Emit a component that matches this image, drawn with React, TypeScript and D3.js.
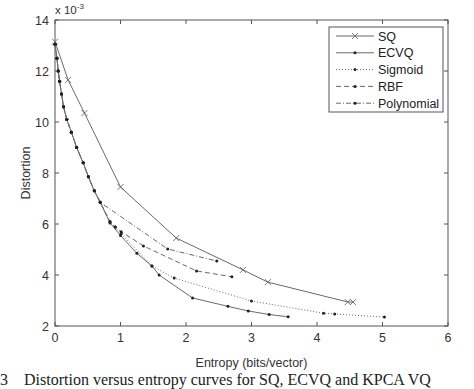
import React from 'react';
import * as d3 from 'd3';

type Pt = [number, number];

// shared upper part of the KPCA / ECVQ curves (entropy, distortion x1e-3)
const trunk: Pt[] = [
  [0, 13.05], [0.03, 12.5], [0.05, 12.0], [0.07, 11.6], [0.1, 11.1], [0.13, 10.6],
  [0.18, 10.1], [0.25, 9.6], [0.33, 9.0], [0.43, 8.4], [0.51, 7.85], [0.6, 7.3], [0.69, 6.85],
];

const sqPts: Pt[] = [
  [0, 13.15], [0.2, 11.65], [0.45, 10.35], [1.0, 7.45], [1.85, 5.45],
  [2.87, 4.2], [3.25, 3.72], [4.47, 2.94], [4.55, 2.94],
];
const ecvqPts: Pt[] = trunk.concat([
  [0.84, 6.04], [1.0, 5.55], [1.25, 4.85], [1.48, 4.35], [1.59, 4.0], [2.1, 3.1],
  [2.64, 2.77], [2.95, 2.59], [3.27, 2.45], [3.56, 2.36],
]);
const sigmoidPts: Pt[] = trunk.concat([
  [0.84, 6.08], [0.92, 5.88], [1.01, 5.62], [1.48, 4.35], [1.82, 3.88],
  [3.0, 2.98], [4.1, 2.5], [4.27, 2.47], [5.03, 2.35],
]);
const rbfPts: Pt[] = trunk.concat([
  [0.84, 6.1], [0.92, 5.88], [1.01, 5.7], [1.35, 5.14], [2.16, 4.16], [2.7, 3.93],
]);
const polyPts: Pt[] = trunk.concat([
  [1.72, 5.02], [2.47, 4.55],
]);

const seriesNames = ['SQ', 'ECVQ', 'Sigmoid', 'RBF', 'Polynomial'];
const seriesData = [sqPts, ecvqPts, sigmoidPts, rbfPts, polyPts];
const seriesDash = ['', '', '1,2', '5,3', '5,2,1,2'];
const seriesMarker = ['x', 'dot', 'dot', 'dot', 'dot'];

const xTicks = [0, 1, 2, 3, 4, 5, 6];
const yTicks = [2, 4, 6, 8, 10, 12, 14];

const W = 474, H = 389;
const mg = { left: 55, right: 26, top: 20, bottom: 63 };
const LINE = '#6a6a6a';
const AXIS = '#555';
const FONT = 'Liberation Sans, Arial, sans-serif';

export default function App() {
  const x = d3.scaleLinear().domain([0, 6]).range([mg.left, W - mg.right]);
  const y = d3.scaleLinear().domain([2, 14]).range([H - mg.bottom, mg.top]);
  const line = d3.line<Pt>().x(d => x(d[0])).y(d => y(d[1]));
  const [x0, x1] = x.range();
  const [y0, y1] = y.range();

  const marker = (kind: string, cx: number, cy: number, key: string) =>
    kind === 'x' ? (
      <path key={key} d={`M${cx - 3},${cy - 3}L${cx + 3},${cy + 3}M${cx - 3},${cy + 3}L${cx + 3},${cy - 3}`}
        stroke={LINE} strokeWidth={0.9} />
    ) : (
      <circle key={key} cx={cx} cy={cy} r={1.5} fill="#222" />
    );

  const lgX = 329, lgY = 27, lgW = 114, lgH = 85;

  return (
    <svg width={W} height={H} style={{ position: 'absolute', left: 0, top: 0, background: '#fff' }}>
      {/* axes box */}
      <rect x={x0} y={y1} width={x1 - x0} height={y0 - y1} fill="none" stroke={AXIS} strokeWidth={1} />
      {xTicks.map(t => (
        <g key={'xt' + t}>
          <line x1={x(t)} x2={x(t)} y1={y0} y2={y0 - 4} stroke={AXIS} />
          <line x1={x(t)} x2={x(t)} y1={y1} y2={y1 + 4} stroke={AXIS} />
          <text x={x(t)} y={y0 + 16} textAnchor="middle" fontSize={12.5} fontFamily={FONT} fill="#333">{t}</text>
        </g>
      ))}
      {yTicks.map(t => (
        <g key={'yt' + t}>
          <line x1={x0} x2={x0 + 4} y1={y(t)} y2={y(t)} stroke={AXIS} />
          <line x1={x1} x2={x1 - 4} y1={y(t)} y2={y(t)} stroke={AXIS} />
          <text x={x0 - 6} y={y(t) + 4.5} textAnchor="end" fontSize={12.5} fontFamily={FONT} fill="#333">{t}</text>
        </g>
      ))}
      <text x={x0} y={14} fontSize={11.5} fontFamily={FONT} fill="#333">x 10<tspan dy={-5} fontSize={8}>-3</tspan></text>
      <text transform={`translate(30,${(y0 + y1) / 2}) rotate(-90)`} textAnchor="middle" fontSize={12.5} fontFamily={FONT} fill="#333">Distortion</text>
      <text x={(x0 + x1) / 2} y={367} textAnchor="middle" fontSize={12.5} fontFamily={FONT} fill="#333">Entropy (bits/vector)</text>

      {/* curves */}
      {seriesData.map((pts, i) => (
        <g key={seriesNames[i]}>
          <path d={line(pts) || ''} fill="none" stroke={LINE} strokeWidth={1} strokeDasharray={seriesDash[i]} />
          {pts.map((p, j) => marker(seriesMarker[i], x(p[0]), y(p[1]), `${i}-${j}`))}
        </g>
      ))}

      {/* legend */}
      <rect x={lgX} y={lgY} width={lgW} height={lgH} fill="#fff" stroke={AXIS} strokeWidth={1} />
      {seriesNames.map((name, i) => {
        const ly = 36 + i * 16.8;
        return (
          <g key={'lg' + name}>
            <line x1={336} x2={374} y1={ly} y2={ly} stroke={LINE} strokeDasharray={seriesDash[i]} />
            {marker(seriesMarker[i], 355, ly, 'lm' + i)}
            <text x={378} y={ly + 4.5} fontSize={12.5} fontFamily={FONT} fill="#222">{name}</text>
          </g>
        );
      })}

      {/* figure caption */}
      <text x={0} y={385} fontSize={16} fontFamily="Liberation Serif, Times New Roman, serif" fill="#222" xmlSpace="preserve">
        3    Distortion versus entropy curves for SQ, ECVQ and KPCA VQ
      </text>
    </svg>
  );
}
